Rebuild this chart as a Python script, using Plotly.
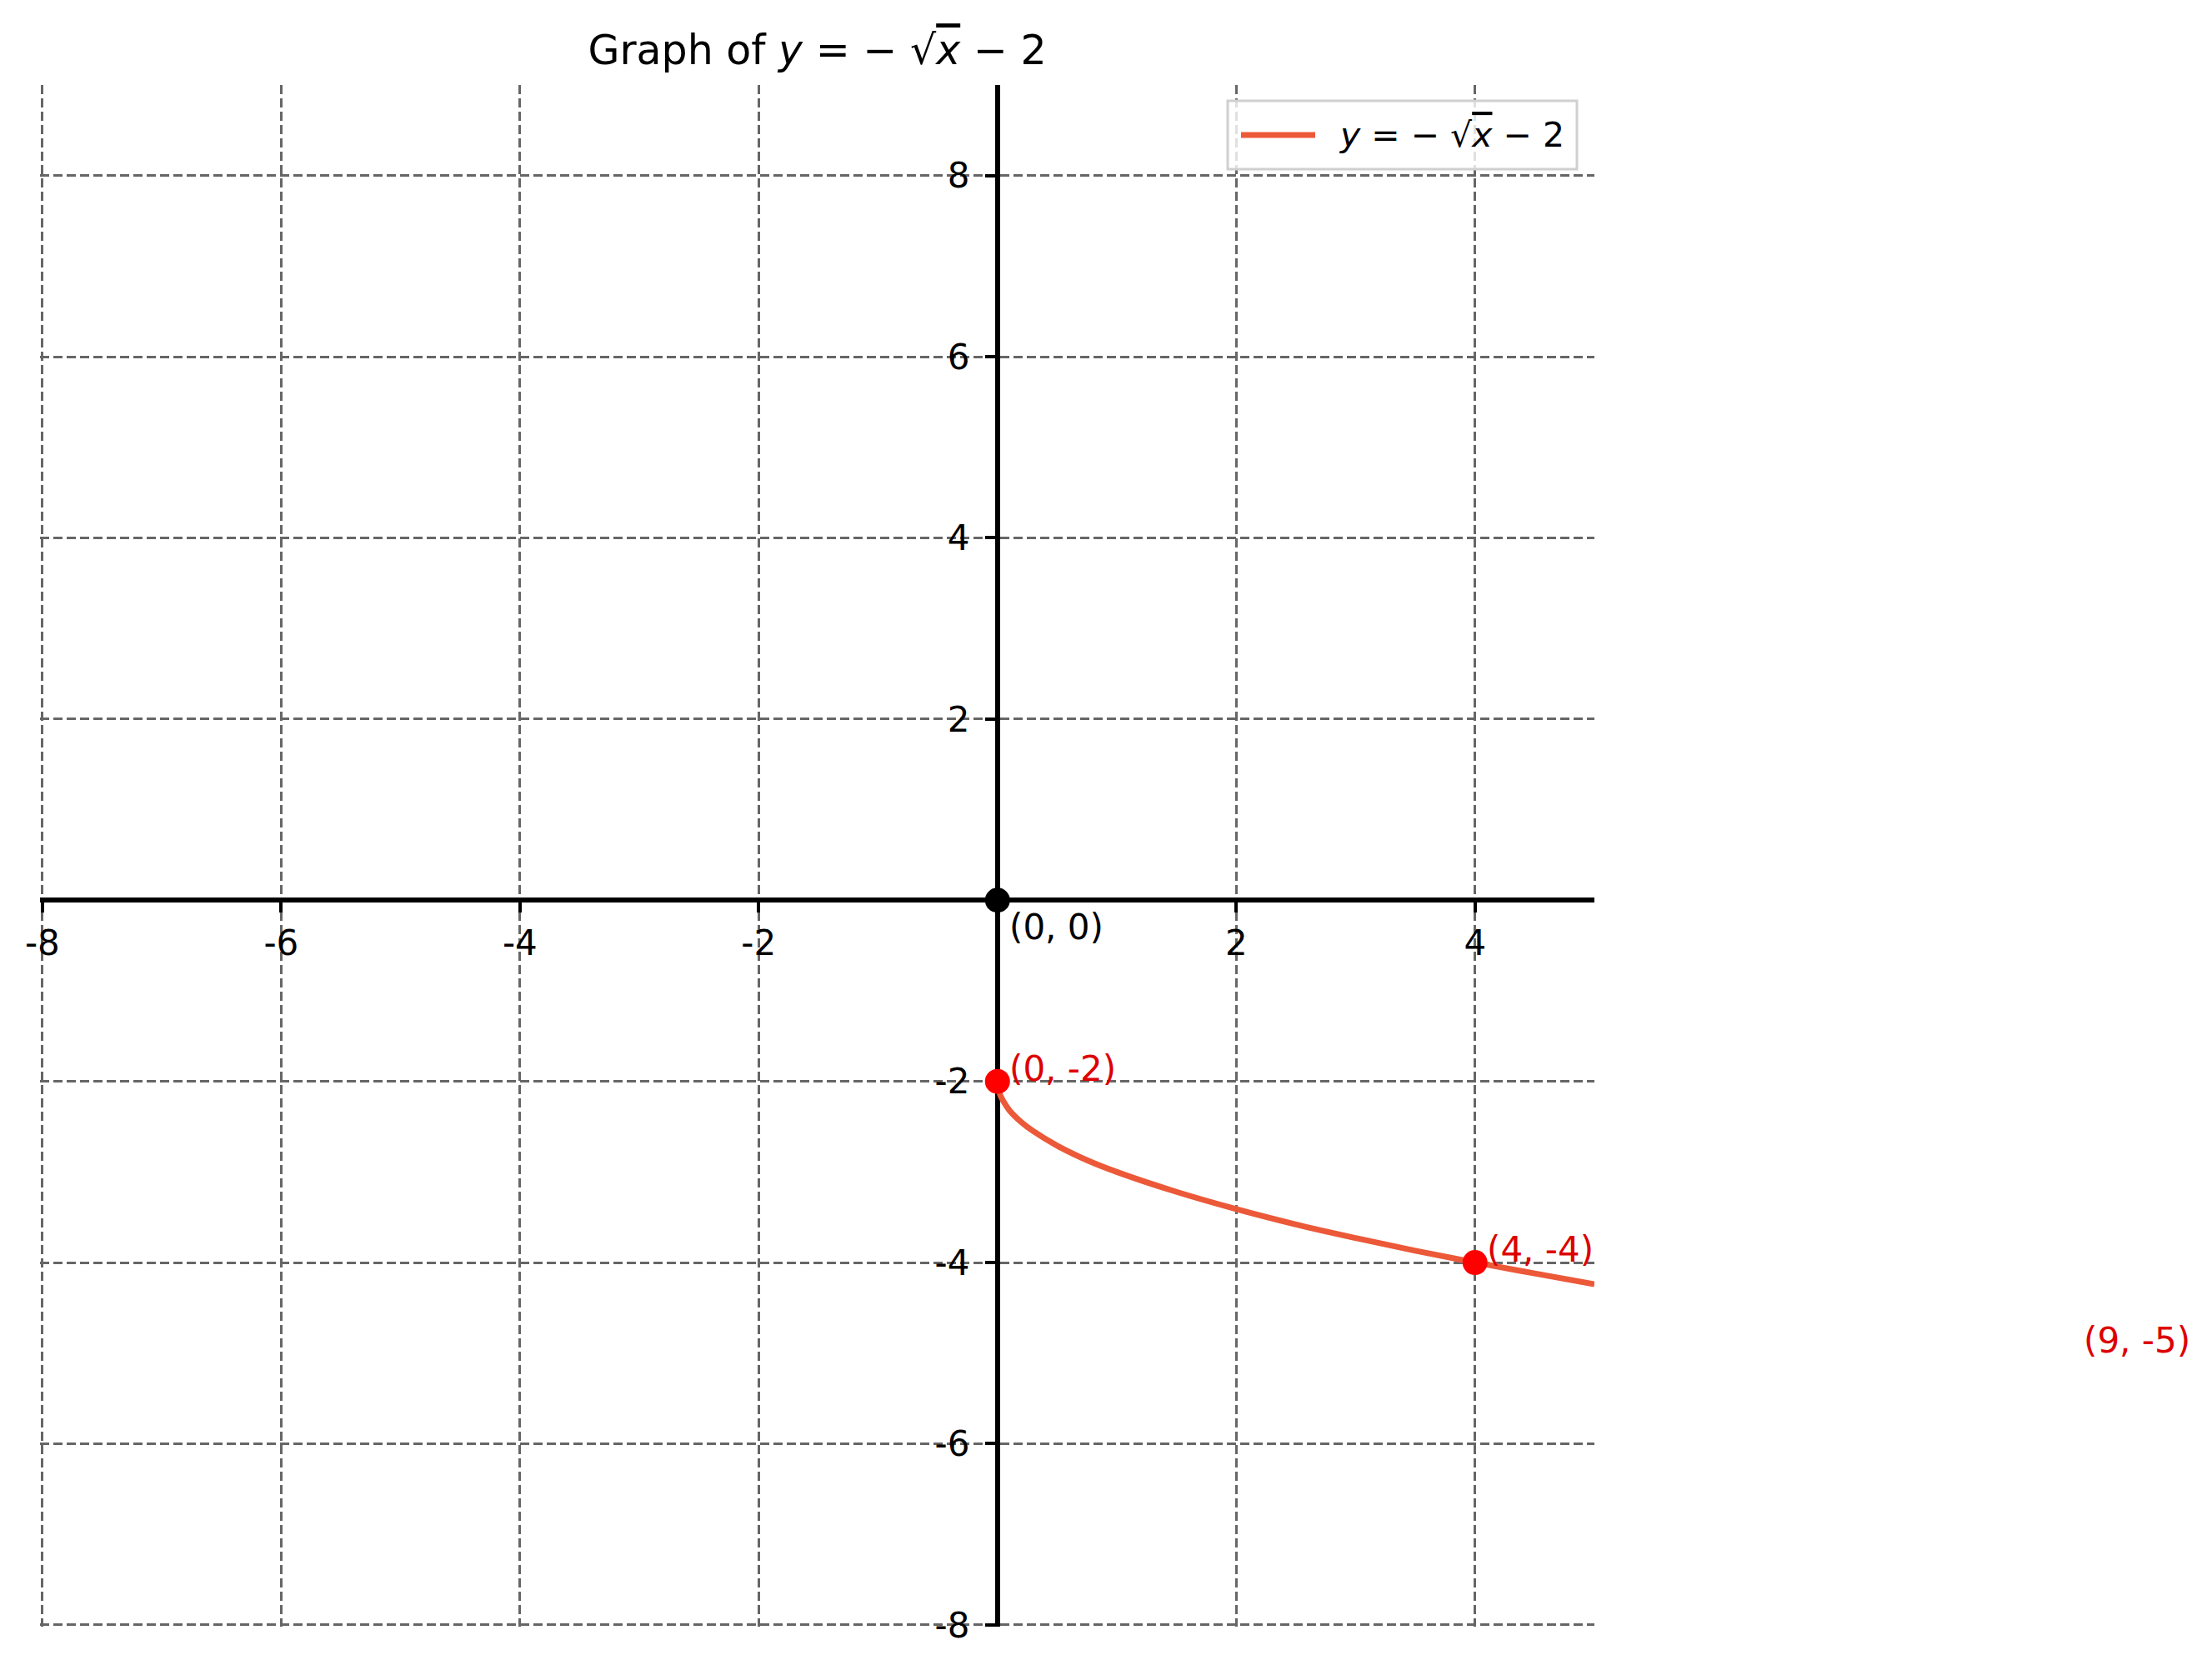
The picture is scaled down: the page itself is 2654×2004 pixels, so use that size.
# Graph of y = -sqrt(x) - 2 with its key points
import plotly.graph_objects as go

# Curve samples (x from 0 to the right edge at 5)
curve_x = [0, 0.02, 0.05, 0.1, 0.2, 0.3, 0.5, 0.75, 1, 1.5, 2, 2.5, 3, 3.5, 4, 4.5, 5]
curve_y = [-2, -2.14, -2.22, -2.32, -2.45, -2.55, -2.71, -2.87, -3, -3.22, -3.41, -3.58, -3.73, -3.87, -4, -4.12, -4.24]

# Marked points
key_x = [0, 4, 9]
key_y = [-2, -4, -5]
key_labels = ['(0, -2)', '(4, -4)', '(9, -5)']
origin_x = [0]
origin_y = [0]
origin_label = '(0, 0)'

# Axis ranges and ticks (lower ends a hair past -8 so the edge grid lines still get drawn)
x_range = [-8.02, 5]
y_range = [-8.02, 9]
x_ticks = [-8, -6, -4, -2, 2, 4]
y_ticks = [-8, -6, -4, -2, 2, 4, 6, 8]

eq = "<i>y</i> = \u2212 \u221a<span style='text-decoration:overline'><i>x</i></span> \u2212 2"
font = 'DejaVu Sans'
curve_color = '#EC5939'
# page body has an 8px margin, so the figure is a bit smaller than the window
W, H = 2638, 1988
M = dict(l=40, r=733, t=94, b=44)

def px(v):  # data x -> paper x
    return (v - x_range[0]) / (x_range[1] - x_range[0])

def py_(v):  # data y -> paper y
    return (v - y_range[0]) / (y_range[1] - y_range[0])

# window pixel -> paper, only used for the hand drawn legend box
def pxl(X):
    return (X - 8 - M['l']) / (W - M['l'] - M['r'])

def pyl(Y):
    return (H - M['b'] - (Y - 8)) / (H - M['t'] - M['b'])

fig = go.Figure()
fig.add_trace(go.Scatter(x=curve_x, y=curve_y, mode='lines', name='y = -sqrt(x) - 2', showlegend=False,
                         line=dict(color=curve_color, width=7, shape='spline')))
fig.add_trace(go.Scatter(x=key_x, y=key_y, mode='markers', showlegend=False,
                         marker=dict(color='#FF0000', size=30, line=dict(width=0))))
fig.add_trace(go.Scatter(x=origin_x, y=origin_y, mode='markers', showlegend=False,
                         marker=dict(color='black', size=30, line=dict(width=0))))

# point labels (paper coords so the one past the axis range still shows)
for xv, yv, lab in zip(key_x, key_y, key_labels):
    fig.add_annotation(x=px(xv), y=py_(yv), xref='paper', yref='paper', text=lab,
                       showarrow=False, xanchor='left', yanchor='bottom',
                       xshift=12, yshift=-11, font=dict(family=font, size=42, color='#DD0000'))
fig.add_annotation(x=px(origin_x[0]), y=py_(origin_y[0]), xref='paper', yref='paper',
                   text=origin_label, showarrow=False, xanchor='left', yanchor='top',
                   xshift=12, yshift=-6, font=dict(family=font, size=42, color='black'))

# legend box drawn by hand so the sample line is as long as in the original
fig.add_shape(type='rect', xref='paper', yref='paper', x0=pxl(1473), x1=pxl(1892), y0=pyl(203), y1=pyl(121),
              line=dict(color='#d0d0d0', width=3), fillcolor='rgba(255,255,255,0.8)', layer='above')
fig.add_shape(type='line', xref='paper', yref='paper', x0=pxl(1489), x1=pxl(1578), y0=pyl(162), y1=pyl(162),
              line=dict(color=curve_color, width=7), layer='above')
fig.add_annotation(x=pxl(1604), y=pyl(162), xref='paper', yref='paper', text=eq, showarrow=False,
                   xanchor='left', yanchor='middle', font=dict(family=font, size=41, color='black'))

axis_style = dict(showline=True, linecolor='black', linewidth=6, ticks='outside', ticklen=12,
                  tickwidth=4, tickcolor='black', showgrid=True, gridcolor='#666666', gridwidth=3,
                  griddash='11px,5px', zeroline=False, layer='below traces', automargin=False,
                  tickfont=dict(family=font, size=42, color='black'), anchor='free')

fig.update_layout(
    width=W, height=H, template='none',
    plot_bgcolor='white', paper_bgcolor='white',
    margin=M,
    title=dict(text='Graph of ' + eq, x=0.5, xref='paper', xanchor='center',
               y=1 - 52 / H, yref='container', yanchor='middle',
               font=dict(family=font, size=49, color='black')),
    xaxis=dict(range=x_range, tickvals=x_ticks, ticktext=[str(t) for t in x_ticks],
               position=py_(0), **axis_style),
    yaxis=dict(range=y_range, tickvals=y_ticks, ticktext=[str(t) for t in y_ticks],
               position=px(0), ticklabelstandoff=10, **axis_style),
    showlegend=False,
)

fig.write_html('out.html')
